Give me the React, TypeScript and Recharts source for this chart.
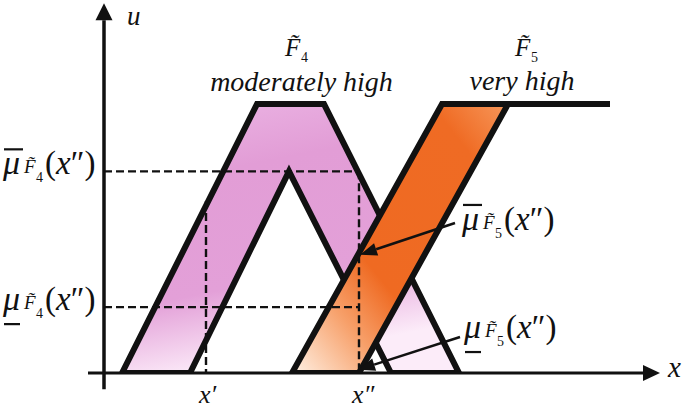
import React from 'react';
import { Area, ComposedChart, Line, ReferenceDot, ReferenceLine, XAxis, YAxis } from 'recharts';

// interval type-2 fuzzy sets F4 (moderately high) and F5 (very high)
const f4Upper = [
  { x: 0.36, u: 0 },
  { x: 3.06, u: 1 },
  { x: 4.4, u: 1 },
  { x: 7.1, u: 0 },
];
const f4Lower = [
  { x: 1.72, u: 0 },
  { x: 3.7, u: 0.75 },
  { x: 5.74, u: 0 },
];
const f5Band = [
  { x: 3.76, lo: 0, hi: 0 },
  { x: 5.1, lo: 0, hi: 0.447 },
  { x: 6.76, lo: 0.557, hi: 1 },
  { x: 8.08, lo: 1, hi: 1 },
];
const f5Upper = [
  { x: 3.76, u: 0 },
  { x: 6.76, u: 1 },
  { x: 10.12, u: 1 },
];
const f5Lower = [
  { x: 5.1, u: 0 },
  { x: 8.08, u: 1 },
];

const xTicks = [2.04, 5.1];
const xTickLabels = ['x′', 'x″'];
const uTicks = [0.245, 0.75];

const xPrime = 2.04;
const xPrimeTop = 0.64;
const xDouble = 5.1;
const muF4Up = 0.75;
const muF4Low = 0.245;

const arrowF5Up = [{ x: 7.02, y: 0.558 }, { x: 5.12, y: 0.44 }];
const arrowF5Low = [{ x: 7.12, y: 0.134 }, { x: 5.08, y: 0.012 }];

const f4Outline = [...f4Upper, ...f4Lower.slice().reverse(), f4Upper[0]];
const f5Outline = [...f5Lower.slice().reverse(), ...f5Upper];

const serif = '"Liberation Serif", "Times New Roman", serif';
const ink = '#111';

const arrow = (len: number, half: number, width: number) => (p: any) => {
  const { x1, y1, x2, y2 } = p;
  const a = Math.atan2(y2 - y1, x2 - x1);
  const bx = x2 - len * Math.cos(a);
  const by = y2 - len * Math.sin(a);
  const nx = -Math.sin(a) * half;
  const ny = Math.cos(a) * half;
  return (
    <g>
      <line x1={x1} y1={y1} x2={bx} y2={by} stroke={ink} strokeWidth={width} />
      <polygon points={`${x2},${y2} ${bx + nx},${by + ny} ${bx - nx},${by - ny}`} fill={ink} />
    </g>
  );
};

function Mu({ x, y, bar, sub }: { x: number; y: number; bar: boolean; sub: string }) {
  return (
    <g fontFamily={serif} fill={ink}>
      <text x={x} y={y} fontSize={34} fontStyle="italic">μ</text>
      {bar ? (
        <line x1={x + 1} x2={x + 20} y1={y - 25} y2={y - 25} stroke={ink} strokeWidth={2.2} />
      ) : (
        <line x1={x + 1} x2={x + 17} y1={y + 14} y2={y + 14} stroke={ink} strokeWidth={2.2} />
      )}
      <text x={x + 21} y={y - 1} fontSize={19} fontStyle="italic">F̃</text>
      <text x={x + 33} y={y + 8} fontSize={14}>{sub}</text>
      <text x={x + 42} y={y} fontSize={33}>
        (<tspan fontStyle="italic">x</tspan>″)
      </text>
    </g>
  );
}

const note = (key: string, x: number, y: number, render: (cx: number, cy: number) => React.ReactElement) => (
  <ReferenceDot key={key} x={x} y={y} r={0} ifOverflow="visible" shape={(p: any) => render(p.cx, p.cy)} />
);

const dash = { stroke: ink, strokeWidth: 2.4, strokeDasharray: '8 4', ifOverflow: 'visible' as const };

export default function App() {
  return (
    <div style={{ position: 'absolute', left: 0, top: 0, background: '#fff' }}>
      <ComposedChart width={685} height={408} margin={{ top: 10, right: 31, bottom: 0, left: 0 }}>
        <defs>
          <linearGradient id="pinkFill" x1="0" y1="0" x2="0.25" y2="1">
            <stop offset="0%" stopColor="#ecb6e5" />
            <stop offset="30%" stopColor="#e29dd6" />
            <stop offset="72%" stopColor="#e3a0d8" />
            <stop offset="100%" stopColor="#fcecf9" />
          </linearGradient>
          <linearGradient id="orangeFill" x1="0" y1="1" x2="1" y2="0">
            <stop offset="0%" stopColor="#fff1e4" />
            <stop offset="22%" stopColor="#f7a06a" />
            <stop offset="38%" stopColor="#ef6a22" />
            <stop offset="82%" stopColor="#ef6b24" />
            <stop offset="100%" stopColor="#f7975a" />
          </linearGradient>
        </defs>
        <XAxis
          type="number"
          dataKey="x"
          domain={[0, 11]}
          ticks={xTicks}
          interval={0}
          allowDataOverflow
          axisLine={false}
          tickLine={false}
          tickSize={0}
          height={35}
          tick={(p: any) => (
            <text x={p.x - 7} y={p.y + 28} fontFamily={serif} fontSize={26} fontStyle="italic" fill={ink}>
              {xTickLabels[xTicks.indexOf(p.payload.value)]}
            </text>
          )}
        />
        <YAxis
          type="number"
          domain={[0, 1.35]}
          ticks={uTicks}
          interval={0}
          allowDataOverflow
          axisLine={false}
          tickLine={false}
          tickSize={0}
          width={104}
          tick={(p: any) => (
            <Mu x={3} y={p.y + 3} bar={p.payload.value > 0.5} sub="4" />
          )}
        />
        <Area data={f4Upper} dataKey="u" type="linear" fill="url(#pinkFill)" fillOpacity={1} stroke="none" isAnimationActive={false} />
        <Area data={f4Lower} dataKey="u" type="linear" fill="#fff" fillOpacity={1} stroke="none" isAnimationActive={false} />
        <Area
          data={f4Outline}
          dataKey="u"
          type="linear"
          fill="none"
          stroke={ink}
          strokeWidth={6}
          strokeLinejoin="miter"
          isAnimationActive={false}
        />
        <Area
          data={f5Band}
          dataKey={(d: any) => [d.lo, d.hi]}
          type="linear"
          fill="url(#orangeFill)"
          fillOpacity={1}
          stroke="none"
          isAnimationActive={false}
        />
        <ReferenceLine segment={[{ x: 0, y: muF4Up }, { x: xDouble, y: muF4Up }]} {...dash} />
        <ReferenceLine segment={[{ x: 0, y: muF4Low }, { x: xDouble, y: muF4Low }]} {...dash} />
        <ReferenceLine segment={[{ x: xDouble, y: muF4Up }, { x: xDouble, y: 0 }]} {...dash} />
        <ReferenceLine segment={[{ x: xPrime, y: xPrimeTop }, { x: xPrime, y: 0 }]} {...dash} />
        <ReferenceLine
          segment={[{ x: -0.32, y: 0 }, { x: 11.12, y: 0 }]}
          ifOverflow="visible"
          shape={arrow(17, 8, 3)}
        />
        <ReferenceLine
          segment={[{ x: 0, y: -0.06 }, { x: 0, y: 1.375 }]}
          ifOverflow="visible"
          shape={arrow(17, 8.5, 3.5)}
        />
        <Line data={f5Outline} dataKey="u" type="linear" stroke={ink} strokeWidth={6} strokeLinejoin="miter" dot={false} isAnimationActive={false} />
        <ReferenceLine segment={arrowF5Up} ifOverflow="visible" shape={arrow(17, 6.5, 2.5)} />
        <ReferenceLine segment={arrowF5Low} ifOverflow="visible" shape={arrow(17, 6.5, 2.5)} />
        {note('u', 0.46, 1.294, (cx, cy) => (
          <text x={cx} y={cy} fontFamily={serif} fontSize={27} fontStyle="italic" fill={ink}>u</text>
        ))}
        {note('xl', 11.28, -0.015, (cx, cy) => (
          <text x={cx} y={cy} fontFamily={serif} fontSize={29} fontStyle="italic" fill={ink}>x</text>
        ))}
        {note('f4', 3.62, 1.18, (cx, cy) => (
          <g fontFamily={serif} fill={ink}>
            <text x={cx} y={cy} fontSize={25} fontStyle="italic">F̃</text>
            <text x={cx + 16} y={cy + 6} fontSize={14}>4</text>
          </g>
        ))}
        {note('f4t', 3.95, 1.048, (cx, cy) => (
          <text x={cx} y={cy} textAnchor="middle" fontFamily={serif} fontSize={28} fontStyle="italic" fill={ink}>moderately high</text>
        ))}
        {note('f5', 8.22, 1.18, (cx, cy) => (
          <g fontFamily={serif} fill={ink}>
            <text x={cx} y={cy} fontSize={25} fontStyle="italic">F̃</text>
            <text x={cx + 16} y={cy + 6} fontSize={14}>5</text>
          </g>
        ))}
        {note('f5t', 8.36, 1.052, (cx, cy) => (
          <text x={cx} y={cy} textAnchor="middle" fontFamily={serif} fontSize={28} fontStyle="italic" fill={ink}>very high</text>
        ))}
        {note('m5u', 7.16, 0.532, (cx, cy) => <Mu x={cx} y={cy} bar sub="5" />)}
        {note('m5l', 7.2, 0.13, (cx, cy) => <Mu x={cx} y={cy} bar={false} sub="5" />)}
      </ComposedChart>
    </div>
  );
}
